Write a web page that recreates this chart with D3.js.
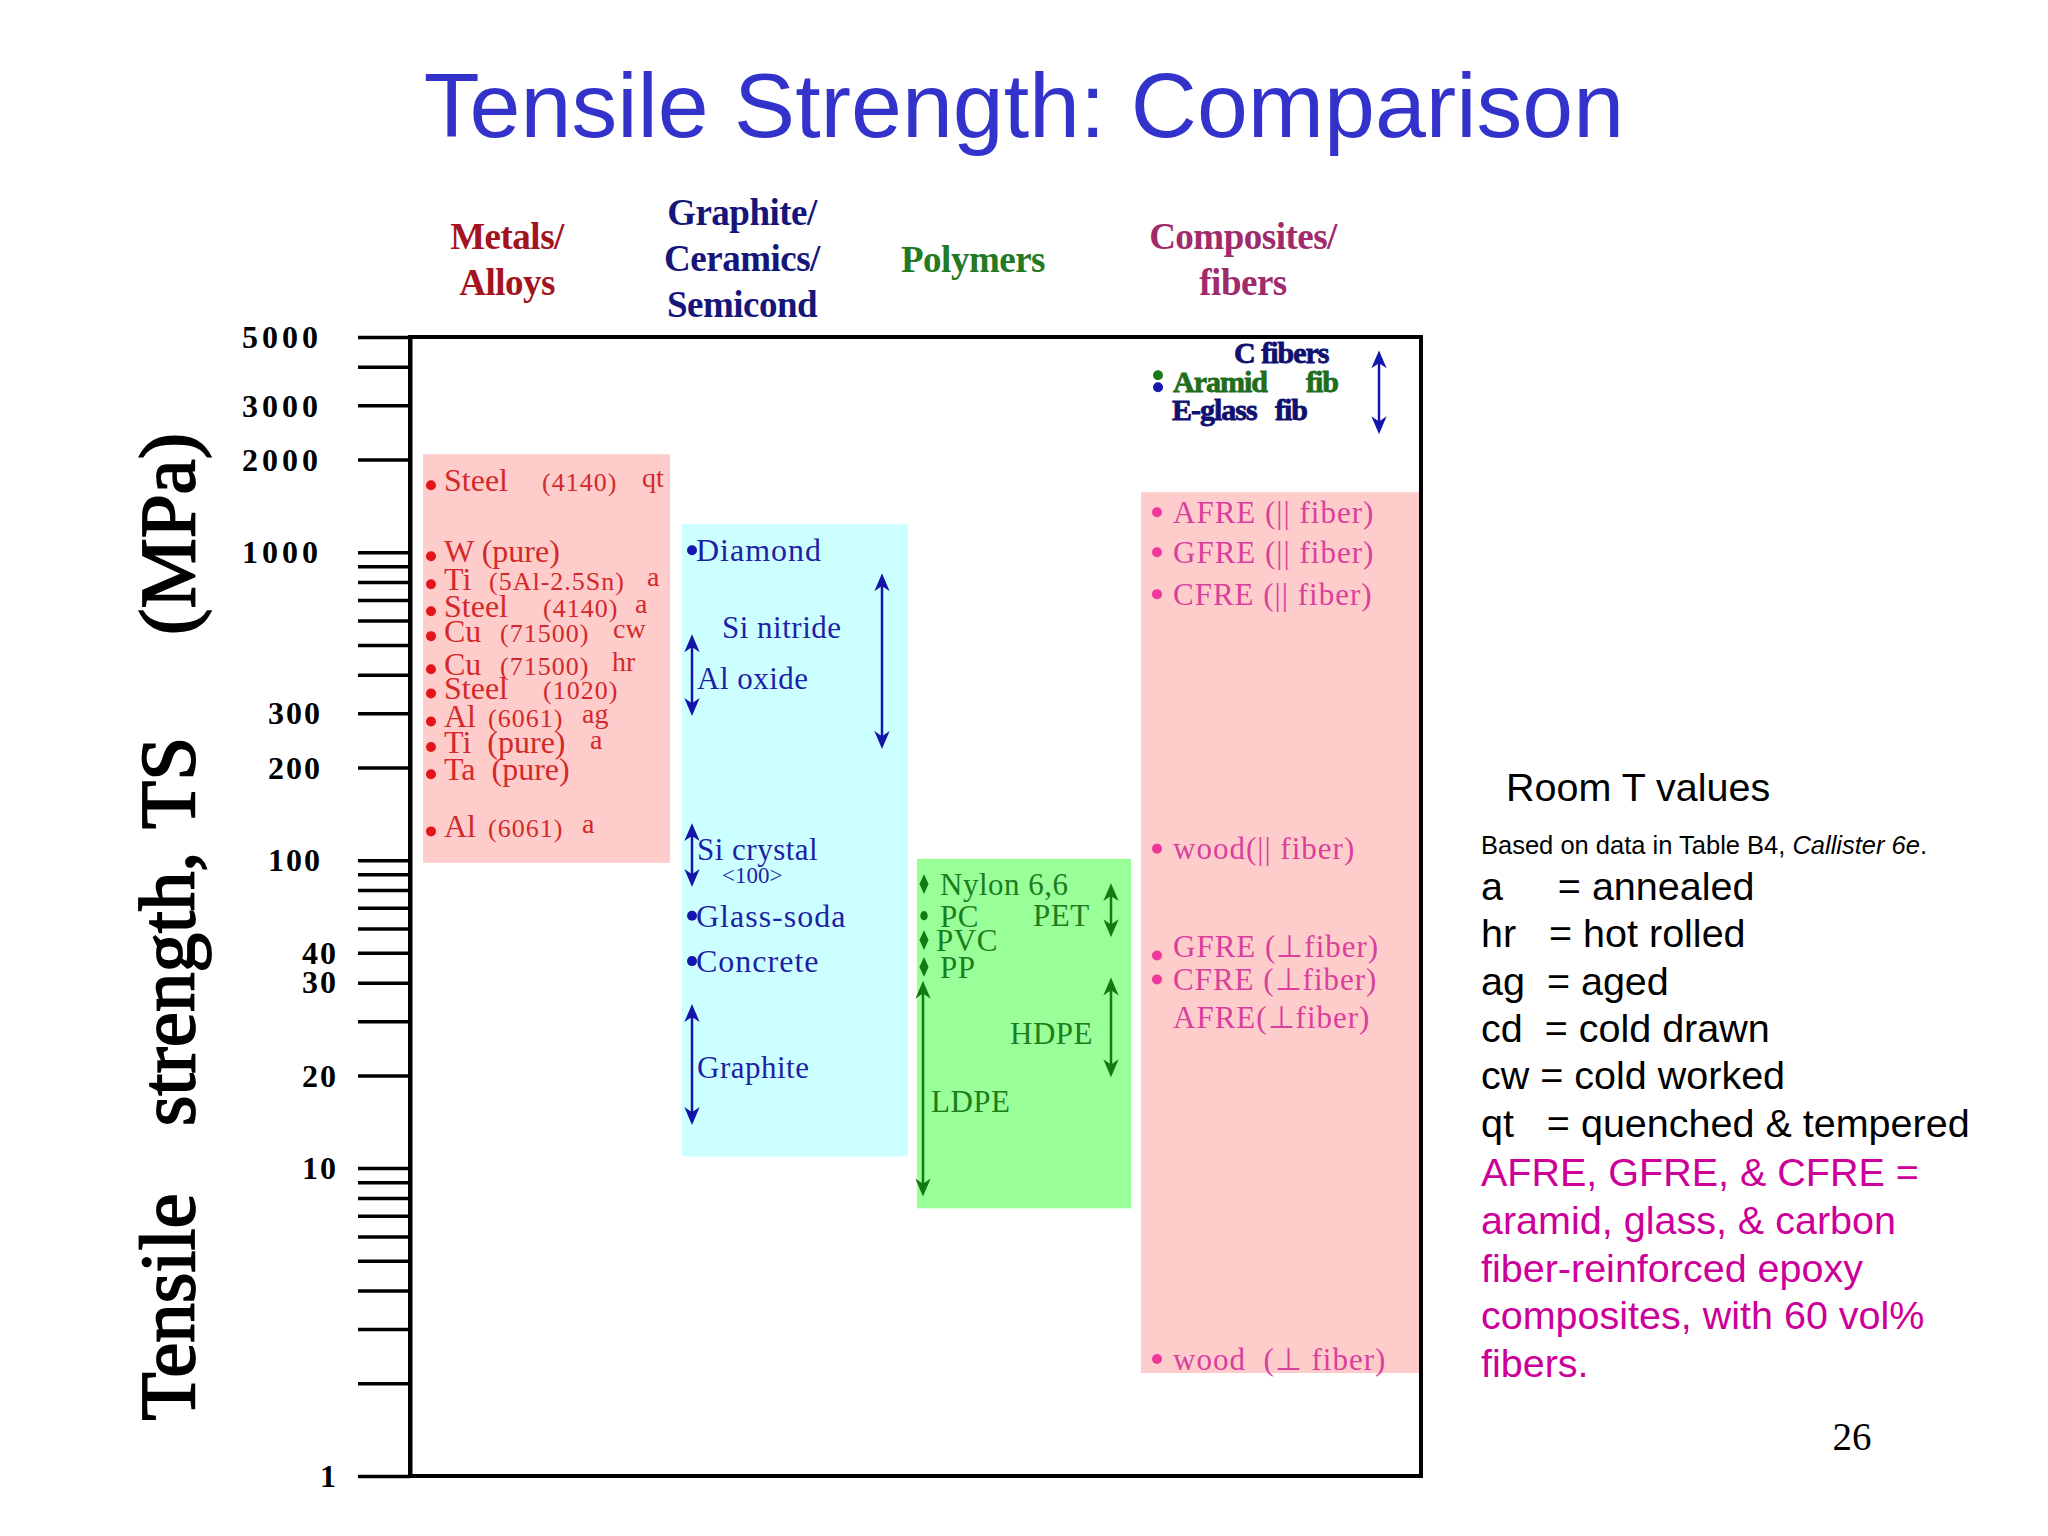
<!DOCTYPE html>
<html>
<head>
<meta charset="utf-8">
<script src="https://cdn.jsdelivr.net/npm/d3@7"></script>
<style>
  body { margin: 0; background: #fff; }
  svg { display: block; }
  text { white-space: pre; }
</style>
</head>
<body>
<svg id="chart" width="2048" height="1536"></svg>
<script>
// ---- data (tensile strength, MPa) ----
const categories = ["Metals/Alloys", "Graphite/Ceramics/Semicond", "Polymers", "Composites/fibers"];
const headerLines = [["Metals/", "Alloys"], ["Graphite/", "Ceramics/", "Semicond"], ["Polymers"], ["Composites/", "fibers"]];
const boxLow = [98, 10.9, 7.4, 2.16];
const boxHigh = [2080, 1233, 101, 1566];

const tickValues = [5000, 4000, 3000, 2000, 1000, 900, 800, 700, 600, 500, 400, 300, 200, 100,
  90, 80, 70, 60, 50, 40, 30, 20, 10, 9, 8, 7, 6, 5, 4, 3, 2, 1];
const tickLabels = ["5000", "3000", "2000", "1000", "300", "200", "100", "40", "30", "20", "10", "1"];

// metals: name, spec, condition, value
const metals = [
  { name: "Steel", spec: "(4140)", cond: "qt", v: 1650 },
  { name: "W (pure)", spec: "", cond: "", v: 970 },
  { name: "Ti", spec: "(5Al-2.5Sn)", cond: "a", v: 787 },
  { name: "Steel", spec: "(4140)", cond: "a", v: 643 },
  { name: "Cu", spec: "(71500)", cond: "cw", v: 534 },
  { name: "Cu", spec: "(71500)", cond: "hr", v: 417 },
  { name: "Steel", spec: "(1020)", cond: "", v: 348 },
  { name: "Al", spec: "(6061)", cond: "ag", v: 282 },
  { name: "Ti  (pure)", spec: "", cond: "a", v: 233 },
  { name: "Ta  (pure)", spec: "", cond: "", v: 190 },
  { name: "Al", spec: "(6061)", cond: "a", v: 124 }
];

// graphite / ceramics / semiconductors
const ceramicPoints = [
  { name: "Diamond", v: 1015 },
  { name: "Glass-soda", v: 66 },
  { name: "Concrete", v: 47 }
];
const ceramicRanges = [
  { name: "Si nitride", lo: 233, hi: 842 },
  { name: "Al oxide", lo: 298, hi: 534 },
  { name: "Si crystal", lo: 83, hi: 130 },
  { name: "Graphite", lo: 14, hi: 33.6 }
];

// polymers
const polymerPoints = [
  { name: "Nylon 6,6", v: 83.6 },
  { name: "PC", v: 66 },
  { name: "PVC", v: 55 },
  { name: "PP", v: 45 }
];
const polymerRanges = [
  { name: "PET", lo: 57, hi: 83 },
  { name: "LDPE", lo: 8.2, hi: 40 },
  { name: "HDPE", lo: 20, hi: 41 }
];

// composites / fibers
const fiberRange = { lo: 2452, hi: 4460 };
const fiberPoints = [
  { name: "Aramid", v: 3755 },
  { name: "E-glass", v: 3435 }
];
const compositePoints = [
  { name: "AFRE (|| fiber)", v: 1349 },
  { name: "GFRE (|| fiber)", v: 1000 },
  { name: "CFRE (|| fiber)", v: 731 },
  { name: "wood(|| fiber)", v: 109 },
  { name: "GFRE (\u22a5fiber)", v: 49 },
  { name: "CFRE (\u22a5fiber)", v: 41 },
  { name: "AFRE(\u22a5fiber)", v: 31, noDot: true },
  { name: "wood  (\u22a5 fiber)", v: 2.4 }
];

const notes = ["a     = annealed", "hr   = hot rolled", "ag  = aged", "cd  = cold drawn",
  "cw = cold worked", "qt   = quenched & tempered"];
const compositeNote = ["AFRE, GFRE, & CFRE =", "aramid, glass, & carbon", "fiber-reinforced epoxy",
  "composites, with 60 vol%", "fibers."];

// ---- layout / style ----
const serif = "'Liberation Serif', 'Times New Roman', serif";
const sans = "'Liberation Sans', Arial, sans-serif";
const boxFill = ["#ffcccc", "#ccffff", "#99ff99", "#ffcccc"];
const headerColor = ["#a3141f", "#15157a", "#237a23", "#a02a6c"];
const headerX = [507, 742, 973, 1243];

const metalSpecX = [119, 0, 66, 120, 77, 77, 120, 65, 0, 0, 65];
const metalCondX = [219, 0, 224, 212, 190, 189, 0, 159, 167, 0, 159];
const compTextDy = [0, 0, 0, 0, -9, 0, 0, 0];

const svg = d3.select("#chart");

const y = d3.scaleLog().domain([1, 5000]).range([1476, 337]);
const col = d3.scaleOrdinal().domain(categories)
  .range([[423, 670], [682, 908], [917, 1131], [1141, 1421]]);
const x0 = (i) => col(categories[i])[0];

// title
svg.append("text")
  .attr("x", 1024).attr("y", 137)
  .attr("text-anchor", "middle")
  .attr("font-family", sans).attr("font-size", 91.5)
  .attr("fill", "#3333cc")
  .text("Tensile Strength: Comparison");

// category boxes
svg.append("g").selectAll("rect")
  .data(categories)
  .join("rect")
    .attr("x", (d) => col(d)[0])
    .attr("width", (d) => col(d)[1] - col(d)[0])
    .attr("y", (d, i) => y(boxHigh[i]))
    .attr("height", (d, i) => y(boxLow[i]) - y(boxHigh[i]))
    .attr("fill", (d, i) => boxFill[i]);

// category headers
headerLines.forEach((lines, i) => {
  const base = lines.length === 3 ? 225 : (lines.length === 2 ? 249 : 272);
  svg.append("text")
    .attr("text-anchor", "middle")
    .attr("font-family", serif).attr("font-weight", "bold").attr("font-size", 37)
    .attr("letter-spacing", -0.5)
    .attr("fill", headerColor[i])
    .selectAll("tspan")
    .data(lines)
    .join("tspan")
      .attr("x", headerX[i])
      .attr("y", (d, j) => base + j * 46)
      .text((d) => d);
});

// frame
svg.append("rect")
  .attr("x", 410).attr("y", y(5000))
  .attr("width", 1011).attr("height", y(1) - y(5000))
  .attr("fill", "none").attr("stroke", "#000").attr("stroke-width", 4);

// y axis ticks
const axis = svg.append("g")
  .attr("transform", "translate(410,0)")
  .call(d3.axisLeft(y).tickValues(tickValues).tickSize(52).tickSizeOuter(0).tickFormat(""));
axis.select(".domain").attr("stroke-width", 4);
axis.selectAll(".tick line").attr("stroke-width", 3.5);

const labelShift = { "40": -30, "30": -39 };
svg.append("g").selectAll("text")
  .data(tickLabels)
  .join("text")
    .attr("x", (d) => (+d >= 100 ? 322 : 338))
    .attr("y", (d) => y(+d) + (labelShift[d] || 0))
    .attr("dy", "0.35em")
    .attr("text-anchor", "end")
    .attr("font-family", serif).attr("font-weight", "bold").attr("font-size", 32)
    .attr("letter-spacing", (d) => (d.length === 4 ? 4 : 2))
    .text((d) => d);

// y axis title
const titleParts = [["Tensile", 1307], ["strength,", 989], ["TS", 783], ["(MPa)", 534]];
svg.append("g").selectAll("text")
  .data(titleParts)
  .join("text")
    .attr("transform", (d) => `translate(194,${d[1]}) rotate(-90)`)
    .attr("text-anchor", "middle")
    .attr("font-family", serif).attr("font-size", 79)
    .attr("fill", "#000").attr("stroke", "#000").attr("stroke-width", 1.8)
    .text((d) => d[0]);

// helper: double-headed range arrow
function rangeArrow(g, x, lo, hi, color) {
  const top = y(hi), bot = y(lo);
  g.append("line")
    .attr("x1", x).attr("x2", x).attr("y1", top + 4).attr("y2", bot - 4)
    .attr("stroke", color).attr("stroke-width", 2.5);
  g.append("path").attr("d", `M${x},${top} l-6,14 l6,-4 l6,4 z`).attr("fill", color).attr("stroke", color).attr("stroke-width", 1.5);
  g.append("path").attr("d", `M${x},${bot} l-6,-14 l6,4 l6,-4 z`).attr("fill", color).attr("stroke", color).attr("stroke-width", 1.5);
}

// ---- metals ----
const gm = svg.append("g");
const metalRed = "#d22a2a";
gm.selectAll("circle")
  .data(metals)
  .join("circle")
    .attr("cx", x0(0) + 8)
    .attr("cy", (d) => y(d.v))
    .attr("r", 5)
    .attr("fill", "#e3151a");
metals.forEach((d, i) => {
  const t = gm.append("text")
    .attr("y", y(d.v)).attr("dy", "0.35em")
    .attr("font-family", serif).attr("fill", metalRed);
  t.append("tspan").attr("x", x0(0) + 21).attr("font-size", 32).text(d.name);
  if (d.spec) {
    t.append("tspan").attr("x", x0(0) + metalSpecX[i]).attr("font-size", 26)
      .attr("letter-spacing", 1).text(d.spec);
  }
  if (d.cond) {
    gm.append("text")
      .attr("x", x0(0) + metalCondX[i]).attr("y", y(d.v) - 8).attr("dy", "0.35em")
      .attr("font-family", serif).attr("font-size", 28).attr("fill", metalRed)
      .text(d.cond);
  }
});

// ---- graphite / ceramics ----
const gc = svg.append("g");
const ceramBlue = "#1f1fa6";
const ceramArrowX = [200, 10, 10, 10];
const ceramLabel = [[40, 52], [15, 42], [15, 24], [15, 61]];
gc.selectAll("circle")
  .data(ceramicPoints)
  .join("circle")
    .attr("cx", x0(1) + 10)
    .attr("cy", (d) => y(d.v))
    .attr("r", 5)
    .attr("fill", "#1515b0");
gc.selectAll("text.pt")
  .data(ceramicPoints)
  .join("text")
    .attr("class", "pt")
    .attr("x", x0(1) + 14)
    .attr("y", (d) => y(d.v)).attr("dy", "0.35em")
    .attr("font-family", serif).attr("font-size", 32).attr("letter-spacing", 1)
    .attr("fill", ceramBlue)
    .text((d) => d.name);
ceramicRanges.forEach((d, i) => {
  rangeArrow(gc, x0(1) + ceramArrowX[i], d.lo, d.hi, "#1515a8");
  gc.append("text")
    .attr("x", x0(1) + ceramLabel[i][0])
    .attr("y", y(d.hi) + ceramLabel[i][1]).attr("dy", "0.35em")
    .attr("font-family", serif).attr("font-size", 31).attr("letter-spacing", 0.5)
    .attr("fill", ceramBlue)
    .text(d.name);
});
gc.append("text")
  .attr("x", x0(1) + 40).attr("y", y(ceramicRanges[2].hi) + 50).attr("dy", "0.35em")
  .attr("font-family", serif).attr("font-size", 23).attr("fill", ceramBlue)
  .text("<100>");

// ---- polymers ----
const gp = svg.append("g");
const polyGreen = "#1c7d1c";
const polyTextX = [23, 23, 19, 23];
gp.selectAll("path.pt")
  .data(polymerPoints)
  .join("path")
    .attr("class", "pt")
    .attr("transform", (d) => `translate(${x0(2) + 7},${y(d.v)}) scale(1.2,1.5)`)
    .attr("d", (d, i) => d3.symbol(i === 1 ? d3.symbolCircle : d3.symbolDiamond, i === 1 ? 30 : 50)())
    .attr("fill", "#127a12");
gp.selectAll("text.pt")
  .data(polymerPoints)
  .join("text")
    .attr("class", "pt")
    .attr("x", (d, i) => x0(2) + polyTextX[i])
    .attr("y", (d) => y(d.v)).attr("dy", "0.35em")
    .attr("font-family", serif).attr("font-size", 31).attr("letter-spacing", 0.5)
    .attr("fill", polyGreen)
    .text((d) => d.name);
const polyArrowX = [194, 6, 194];
const polyLabel = [[116, 30], [14, 118], [93, 54]];
polymerRanges.forEach((d, i) => {
  rangeArrow(gp, x0(2) + polyArrowX[i], d.lo, d.hi, "#127a12");
  gp.append("text")
    .attr("x", x0(2) + polyLabel[i][0])
    .attr("y", y(d.hi) + polyLabel[i][1]).attr("dy", "0.35em")
    .attr("font-family", serif).attr("font-size", 31).attr("letter-spacing", 0.5)
    .attr("fill", polyGreen)
    .text(d.name);
});

// ---- composites / fibers ----
const gf = svg.append("g");
const navy = "#10106e";
rangeArrow(gf, x0(3) + 238, fiberRange.lo, fiberRange.hi, "#1515b0");
gf.append("text")
  .attr("x", x0(3) + 93).attr("y", y(fiberRange.hi)).attr("dy", "0.35em")
  .attr("font-family", serif).attr("font-weight", "bold").attr("font-size", 30)
  .attr("letter-spacing", -1).attr("fill", navy)
  .attr("stroke", navy).attr("stroke-width", 0.8)
  .text("C fibers");
gf.selectAll("circle")
  .data(fiberPoints)
  .join("circle")
    .attr("cx", x0(3) + 17)
    .attr("cy", (d) => y(d.v))
    .attr("r", 5)
    .attr("fill", (d, i) => (i === 0 ? "#1a7a1a" : "#1515b0"));
const fiberText = [
  [["Aramid", 32], ["fib", 165]],
  [["E-glass", 31], ["fib", 134]]
];
const fiberDy = [6, 22];
const fiberColor = ["#1e6e1e", navy];
fiberPoints.forEach((d, i) => {
  fiberText[i].forEach((p) => {
    gf.append("text")
      .attr("x", x0(3) + p[1]).attr("y", y(d.v) + fiberDy[i]).attr("dy", "0.35em")
      .attr("font-family", serif).attr("font-weight", "bold").attr("font-size", 30)
      .attr("letter-spacing", -1).attr("fill", fiberColor[i])
      .attr("stroke", fiberColor[i]).attr("stroke-width", 0.8)
      .text(p[0]);
  });
});

const compPink = "#d9409c";
gf.selectAll("circle.cp")
  .data(compositePoints.filter((d) => !d.noDot))
  .join("circle")
    .attr("class", "cp")
    .attr("cx", x0(3) + 16)
    .attr("cy", (d) => y(d.v))
    .attr("r", 5)
    .attr("fill", "#f0379b");
gf.selectAll("text.cp")
  .data(compositePoints)
  .join("text")
    .attr("class", "cp")
    .attr("x", x0(3) + 32)
    .attr("y", (d, i) => y(d.v) + compTextDy[i]).attr("dy", "0.35em")
    .attr("font-family", serif).attr("font-size", 31).attr("letter-spacing", 1)
    .attr("fill", compPink)
    .text((d) => d.name);

// ---- notes on the right ----
svg.append("text")
  .attr("x", 1506).attr("y", 801)
  .attr("font-family", sans).attr("font-size", 39.5)
  .text("Room T values");
const src = svg.append("text")
  .attr("x", 1481).attr("y", 854)
  .attr("font-family", sans).attr("font-size", 25.5);
src.append("tspan").text("Based on data in Table B4, ");
src.append("tspan").attr("font-style", "italic").text("Callister 6e");
src.append("tspan").text(".");

svg.append("g").selectAll("text")
  .data(notes)
  .join("text")
    .attr("x", 1481)
    .attr("y", (d, i) => 900 + i * 47.3)
    .attr("font-family", sans).attr("font-size", 39.5)
    .attr("fill", "#000")
    .text((d) => d);
svg.append("g").selectAll("text")
  .data(compositeNote)
  .join("text")
    .attr("x", 1481)
    .attr("y", (d, i) => 1186 + i * 47.8)
    .attr("font-family", sans).attr("font-size", 39.5)
    .attr("fill", "#cc0099")
    .text((d) => d);

// page number
svg.append("text")
  .attr("x", 1852).attr("y", 1450)
  .attr("text-anchor", "middle")
  .attr("font-family", serif).attr("font-size", 39)
  .text("26");
</script>
</body>
</html>
